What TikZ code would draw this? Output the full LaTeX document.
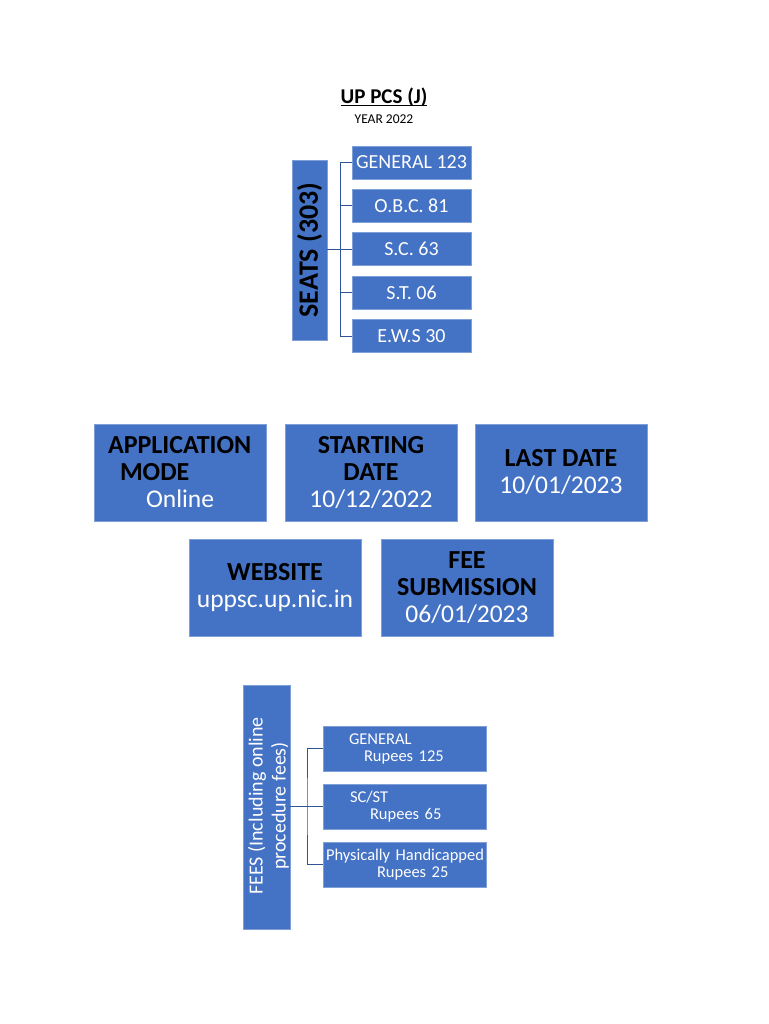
\documentclass[tikz,border=0pt]{standalone}
\usepackage{fontspec}
\setmainfont{Carlito}
\definecolor{boxblue}{HTML}{4472C4}
\definecolor{edgeblue}{HTML}{7F9FD8}
\definecolor{linkblue}{HTML}{2F5597}
\newcommand{\bl}[1]{{\fontsize{26}{27}\selectfont\bfseries #1}}
\begin{document}
\begin{tikzpicture}[x=1pt,y=-1pt,
  bx/.style={fill=boxblue,draw=edgeblue,line width=0.6pt,inner sep=0pt},
  seatitem/.style={bx,minimum width=119pt,minimum height=33pt,text=white,font=\fontsize{20}{24}\selectfont},
  midbox/.style={bx,minimum width=172pt,minimum height=97pt,align=center,font=\fontsize{25.5}{27}\selectfont},
  feeitem/.style={bx,minimum width=163pt,minimum height=45pt,text width=163pt,align=left,text=white,font=\fontsize{16.5}{17}\selectfont},
  link/.style={draw=linkblue,line width=1pt}]
\useasboundingbox (0,0) rectangle (768,1024);
\fill[white] (0,0) rectangle (768,1024);
% title
\node[font=\bfseries\fontsize{21}{24}\selectfont,anchor=base] (title) at (384,104) {\underline{\smash{UP PCS (J)}}};
\node[font=\fontsize{13.5}{16}\selectfont] (year) at (384,119.5) {YEAR 2022};
% seats
\node[bx,minimum width=35pt,minimum height=180pt] (seats) at (309.5,250) {};
\node[rotate=90,font=\bfseries\fontsize{28}{30}\selectfont] (seatslbl) at (seats.center) {SEATS (303)};
\node[seatitem] (gen) at (411.5,162.5) {GENERAL 123};
\node[seatitem] (obc) at (411.5,206) {O.B.C. 81};
\node[seatitem] (sc) at (411.5,249) {S.C. 63};
\node[seatitem] (st) at (411.5,292.5) {S.T. 06};
\node[seatitem] (ews) at (411.5,336) {E.W.S 30};
\coordinate (sj) at (340,249);
\draw[link] (seats.east |- sj) -- (sc.west);
\draw[link] (gen.west) -| (sj) |- (ews.west);
\draw[link] (obc.west) -| (sj);
\draw[link] (st.west) -| (sj);
% middle boxes
\node[midbox,text width=172pt,align=left] (app) at (180,472.5)
  {\hspace*{14pt}\bl{APPLICATION}\\\hspace*{26pt}\bl{MODE}\\\hspace*{52pt}\textcolor{white}{Online}};
\node[midbox] (start) at (371,472.5) {\bl{STARTING}\\\bl{DATE}\\\textcolor{white}{10/12/2022}};
\node[midbox] (last) at (561,472.5) {\bl{LAST DATE}\\\textcolor{white}{10/01/2023}};
\node[midbox] (web) at (275,587.5) {\bl{WEBSITE}\\\textcolor{white}{uppsc.up.nic.in}};
\node[midbox] (feesub) at (467,587.5) {\bl{FEE}\\\bl{SUBMISSION}\\\textcolor{white}{06/01/2023}};
% fees
\node[bx,minimum width=47pt,minimum height=244pt] (fees) at (266.5,807) {};
\node[rotate=90,align=center,text=white,font=\fontsize{20}{23}\selectfont] (feeslbl) at (268.5,806) {FEES (Including online\\procedure fees)};
\node[feeitem] (fgen) at (404.5,748.5) {\hspace*{26pt}GENERAL\\\hspace*{41pt}Rupees 125};
\node[feeitem] (fsc) at (404.5,806.5) {\hspace*{27pt}SC/ST\\\hspace*{47pt}Rupees 65};
\node[feeitem] (fph) at (404.5,864.5) {\hspace*{3pt}Physically Handicapped\\\hspace*{54pt}Rupees 25};
\coordinate (fj) at (307,806.5);
\draw[link] (fees.east |- fj) -- (fsc.west);
\draw[link] (fgen.west) -| (fj) |- (fph.west);
\end{tikzpicture}
\end{document}
